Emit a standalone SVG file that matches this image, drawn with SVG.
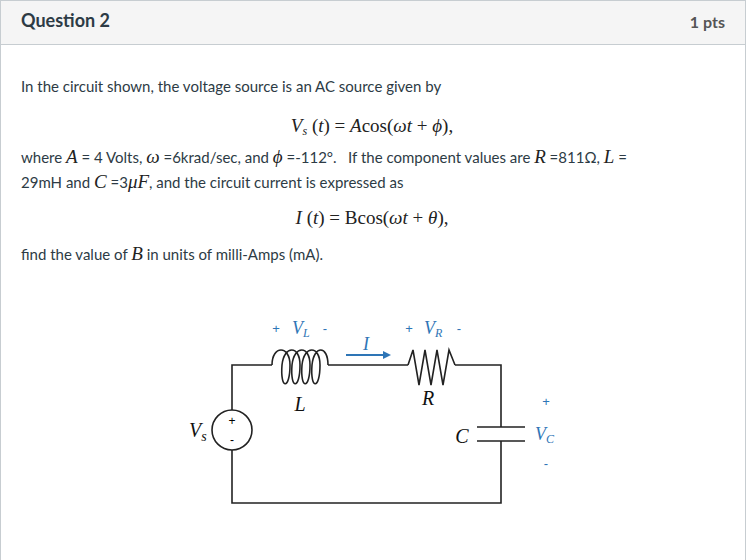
<svg xmlns="http://www.w3.org/2000/svg" width="753" height="560" viewBox="0 0 753 560">
<style>
.t{font-family:Lato,"Liberation Sans",sans-serif;font-size:15px;fill:#2d3b45}
.m{font-family:"Liberation Serif",serif;font-size:19px;fill:#222}
.mi{font-family:"Liberation Serif",serif;font-size:19px;font-style:italic;fill:#222}
.b{font-family:"Liberation Serif",serif;font-style:italic;fill:#2e75b6;font-size:18px}
.bp{font-family:"Liberation Sans",sans-serif;fill:#2e75b6;font-size:13px}
.k{font-family:"Liberation Serif",serif;font-style:italic;fill:#111;font-size:20px}
.w{fill:none;stroke:#222;stroke-width:1.6}
</style>
<rect width="753" height="560" fill="#fff"/>
<rect x="0.5" y="0.5" width="745" height="44" fill="#f5f5f5" stroke="#c7cdd1"/>
<line x1="0.5" y1="44" x2="0.5" y2="560" stroke="#c7cdd1"/>
<line x1="745.5" y1="44" x2="745.5" y2="560" stroke="#c7cdd1"/>
<text x="21" y="27" font-family="Lato,'Liberation Sans',sans-serif" font-size="18" font-weight="bold" fill="#2d3b45">Question 2</text>
<text x="725" y="28" text-anchor="end" font-family="Lato,'Liberation Sans',sans-serif" font-size="16" font-weight="bold" fill="#555">1 pts</text>
<text class="t" x="21" y="92">In the circuit shown, the voltage source is an AC source given by</text>
<text class="m" x="372" y="132" text-anchor="middle"><tspan font-style="italic">V<tspan font-size="12" dy="3">s</tspan></tspan><tspan dy="-3"> (</tspan><tspan font-style="italic">t</tspan>) = <tspan font-style="italic">A</tspan>cos(<tspan font-style="italic">ωt</tspan> + <tspan font-style="italic">ϕ</tspan>),</text>
<text class="t" x="21" y="163" xml:space="preserve">where <tspan class="mi">A</tspan> = 4 Volts, <tspan class="mi">ω</tspan> =6krad/sec, and <tspan class="mi">ϕ</tspan> =-112°.   If the component values are <tspan class="mi">R</tspan> =811Ω, <tspan class="mi">L</tspan> =</text>
<text class="t" x="21" y="188">29mH and <tspan class="mi">C</tspan> =3<tspan class="mi">μF</tspan>, and the circuit current is expressed as</text>
<text class="m" x="372" y="224" text-anchor="middle"><tspan font-style="italic">I</tspan> (<tspan font-style="italic">t</tspan>) = Bcos(<tspan font-style="italic">ωt</tspan> + <tspan font-style="italic">θ</tspan>),</text>
<text class="t" x="21" y="260">find the value of <tspan class="mi">B</tspan> in units of milli-Amps (mA).</text>
<g id="wires">
<path class="w" d="M272 365 H232 V410 M232 450 V503 H501 V441 M501 427 V365 H455 M408 365 H328"/>
</g>
<g id="inductor"><path class="w" d="M272 365 C272 345 290 345 290 365 C290 390 280 390 282 365 C284 345 300 345 300 365 C300 390 290 390 292 365 C294 345 310 345 310 365 C310 390 300 390 302 365 C304 345 320 345 320 365 C320 390 310 390 312 365 C314 345 328 345 328 365"/></g>
<g id="resistor"><path class="w" d="M408 365 L413 350 L419 385 L425 350 L431 385 L437 350 L443 385 L449 350 L455 365"/></g>
<g id="source"><circle cx="232" cy="430" r="20" fill="#fff" stroke="#222" stroke-width="1.6"/><text x="232" y="425" text-anchor="middle" font-family="Liberation Sans,sans-serif" font-size="12">+</text><text x="232" y="444" text-anchor="middle" font-family="Liberation Sans,sans-serif" font-size="12">-</text></g>
<g id="capacitor"><path class="w" d="M477 427 H525 M477 441 H525"/></g>
<g id="labels">
<text class="k" x="300" y="411" text-anchor="middle">L</text>
<text class="k" x="428" y="405" text-anchor="middle">R</text>
<text class="k" x="462" y="443" text-anchor="middle">C</text>
<text class="k" x="189" y="437">V<tspan font-size="14" dy="4">s</tspan></text>
<text class="bp" x="276" y="333" text-anchor="middle">+</text>
<text class="b" x="292" y="334">V<tspan font-size="12" dy="3">L</tspan></text>
<text class="bp" x="325" y="333" text-anchor="middle">-</text>
<text class="b" x="366" y="350" text-anchor="middle" font-size="20">I</text>
<line x1="346" y1="355" x2="384" y2="355" stroke="#2e75b6" stroke-width="2"/><path d="M391 355 L383 351 L383 359Z" fill="#2e75b6"/>
<text class="bp" x="409" y="333" text-anchor="middle">+</text>
<text class="b" x="424" y="334">V<tspan font-size="12" dy="3">R</tspan></text>
<text class="bp" x="459" y="333" text-anchor="middle">-</text>
<text class="bp" x="546" y="406" text-anchor="middle">+</text>
<text class="b" x="535" y="440">V<tspan font-size="12" dy="3">C</tspan></text>
<text class="bp" x="546" y="468" text-anchor="middle">-</text>
</g>
</svg>
